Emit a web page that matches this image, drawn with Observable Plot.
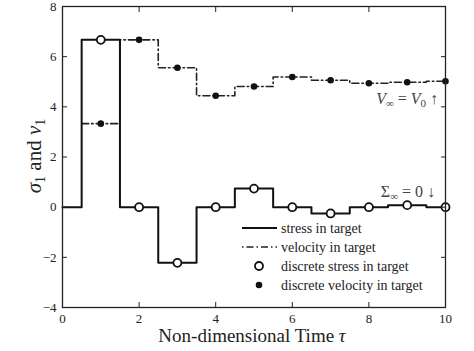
<!DOCTYPE html>
<html><head><meta charset="utf-8">
<script src="https://cdn.jsdelivr.net/npm/d3@7"></script>
<script src="https://cdn.jsdelivr.net/npm/@observablehq/plot@0.6"></script>
<style>
body{margin:0;background:#fff;}
#chart{position:relative;width:474px;height:351px;}
#chart svg text{font-family:"Liberation Serif","DejaVu Serif",serif !important;}
</style></head>
<body><div id="chart"></div>
<script>
const edges = [0, 0.5, 1.5, 2.5, 3.5, 4.5, 5.5, 6.5, 7.5, 8.5, 9.5, 10];
const stressLevels = [0, 6.67, 0, -2.22, 0, 0.74, 0, -0.25, 0, 0.08, 0];
const velEdges = [0.5, 1.5, 2.5, 3.5, 4.5, 5.5, 6.5, 7.5, 8.5, 9.5, 10];
const velLevels = [3.33, 6.67, 5.56, 4.44, 4.81, 5.19, 5.06, 4.94, 4.98, 5.02];
const tau = [1, 2, 3, 4, 5, 6, 7, 8, 9, 10];
const stressPts = [6.67, 0, -2.22, 0, 0.74, 0, -0.25, 0, 0.08, 0];
const velPts = [3.33, 6.67, 5.56, 4.44, 4.81, 5.19, 5.06, 4.94, 4.98, 5.02];
const xTicks = [0, 2, 4, 6, 8, 10];
const yTicks = [-4, -2, 0, 2, 4, 6, 8];
const legendLabels = ["stress in target", "velocity in target", "discrete stress in target", "discrete velocity in target"];
const annotations = [
  {x: 9.82, y: 4.3, parts: [["V", "i"], ["∞", "s"], [" = ", ""], ["V", "i"], ["0", "s"], [" ↑", ""]]},
  {x: 9.74, y: 0.6, parts: [["Σ", ""], ["∞", "s"], [" = 0 ↓", ""]]}
];

function stepData(e, lv) {
  const d = lv.map((v, i) => ({x: e[i], y: v}));
  d.push({x: e[e.length - 1], y: lv[lv.length - 1]});
  return d;
}
const stressLine = stepData(edges, stressLevels);
const velLine = stepData(velEdges, velLevels);
const sPts = tau.map((t, i) => ({x: t, y: stressPts[i]}));
const vPts = tau.map((t, i) => ({x: t, y: velPts[i]}));

const W = 474, H = 351, mL = 62, mR = 29, mT = 6, mB = 44;
const plot = Plot.plot({
  width: W, height: H,
  marginLeft: mL, marginRight: mR, marginTop: mT, marginBottom: mB,
  style: {fontFamily: "'Liberation Serif', 'DejaVu Serif', serif", fontSize: "12px", color: "#222"},
  x: {domain: [0, 10], ticks: xTicks, label: null},
  y: {domain: [-4, 8], ticks: yTicks, label: null},
  marks: [
    Plot.line(velLine, {x: "x", y: "y", curve: "step-after", stroke: "#222", strokeWidth: 1.6, strokeDasharray: "7,3,1.5,3"}),
    Plot.line(stressLine, {x: "x", y: "y", curve: "step-after", stroke: "#111", strokeWidth: 2}),
    Plot.dot(vPts, {x: "x", y: "y", r: 3.3, fill: "#111", stroke: "none"}),
    Plot.dot(sPts, {x: "x", y: "y", r: 4, fill: "#fff", stroke: "#111", strokeWidth: 1.8}),
    Plot.axisX({anchor: "bottom", ticks: xTicks, tickSize: -5, tickFormat: () => "", stroke: "#222"}),
    Plot.axisX({anchor: "top", ticks: xTicks, tickSize: -5, tickFormat: () => "", stroke: "#222", label: null}),
    Plot.axisX({anchor: "bottom", ticks: xTicks, tickSize: 0, tickPadding: 6, fontSize: 13, label: null}),
    Plot.axisY({anchor: "left", ticks: yTicks, tickSize: -5, tickFormat: () => "", stroke: "#222"}),
    Plot.axisY({anchor: "right", ticks: yTicks, tickSize: -5, tickFormat: () => "", stroke: "#222", label: null}),
    Plot.axisY({anchor: "left", ticks: yTicks, tickSize: 0, tickPadding: 6, fontSize: 13, label: null, tickFormat: d => d < 0 ? "−" + Math.abs(d) : String(d)}),
    Plot.frame({stroke: "#222", strokeWidth: 1.3})
  ]
});
document.getElementById("chart").appendChild(plot);

const svg = d3.select(plot);
const sx = plot.scale("x"), sy = plot.scale("y");
// annotations
annotations.forEach(a => {
  const t = svg.append("text").attr("x", sx.apply(a.x)).attr("y", sy.apply(a.y)).attr("dy", "0.35em")
    .attr("text-anchor", "end").attr("font-size", 16).attr("fill", "#444");
  let shifted = false;
  a.parts.forEach(([s, k]) => {
    const ts = t.append("tspan").text(s);
    if (k === "i") ts.attr("font-style", "italic");
    if (k === "s") { ts.attr("font-size", 11).attr("dy", 3); shifted = true; }
    else if (shifted) { ts.attr("dy", -3); shifted = false; }
  });
});
// x label
svg.append("text").attr("x", 252).attr("y", 342).attr("text-anchor", "middle")
  .attr("font-size", 19).attr("fill", "#222").text("Non-dimensional Time ")
  .append("tspan").attr("font-style", "italic").text("τ");
// y label
const yl = svg.append("text").attr("transform", "translate(41,156) rotate(-90)")
  .attr("text-anchor", "middle").attr("font-size", 21).attr("fill", "#222");
yl.append("tspan").attr("font-style", "italic").text("σ");
yl.append("tspan").attr("font-size", 14).attr("dy", 4).text("1");
yl.append("tspan").attr("dy", -4).text(" and ");
yl.append("tspan").attr("font-style", "italic").text("v");
yl.append("tspan").attr("font-size", 14).attr("dy", 4).text("1");

// legend
const lg = svg.append("g").attr("transform", "translate(242,228)");
legendLabels.forEach((lab, i) => {
  const g = lg.append("g").attr("transform", `translate(0,${i * 19})`);
  if (i === 0) g.append("line").attr("x1", 0).attr("x2", 35).attr("stroke", "#111").attr("stroke-width", 2);
  if (i === 1) g.append("line").attr("x1", 0).attr("x2", 35).attr("stroke", "#222").attr("stroke-width", 1.6).attr("stroke-dasharray", "1.5,3,7,3");
  if (i === 2) g.append("circle").attr("cx", 17).attr("r", 4).attr("fill", "#fff").attr("stroke", "#111").attr("stroke-width", 1.8);
  if (i === 3) g.append("circle").attr("cx", 17).attr("r", 3.3).attr("fill", "#111");
  g.append("text").attr("x", 39).attr("dy", "0.35em").attr("text-anchor", "start").attr("font-size", 14).attr("fill", "#222").text(lab);
});
</script></body></html>
